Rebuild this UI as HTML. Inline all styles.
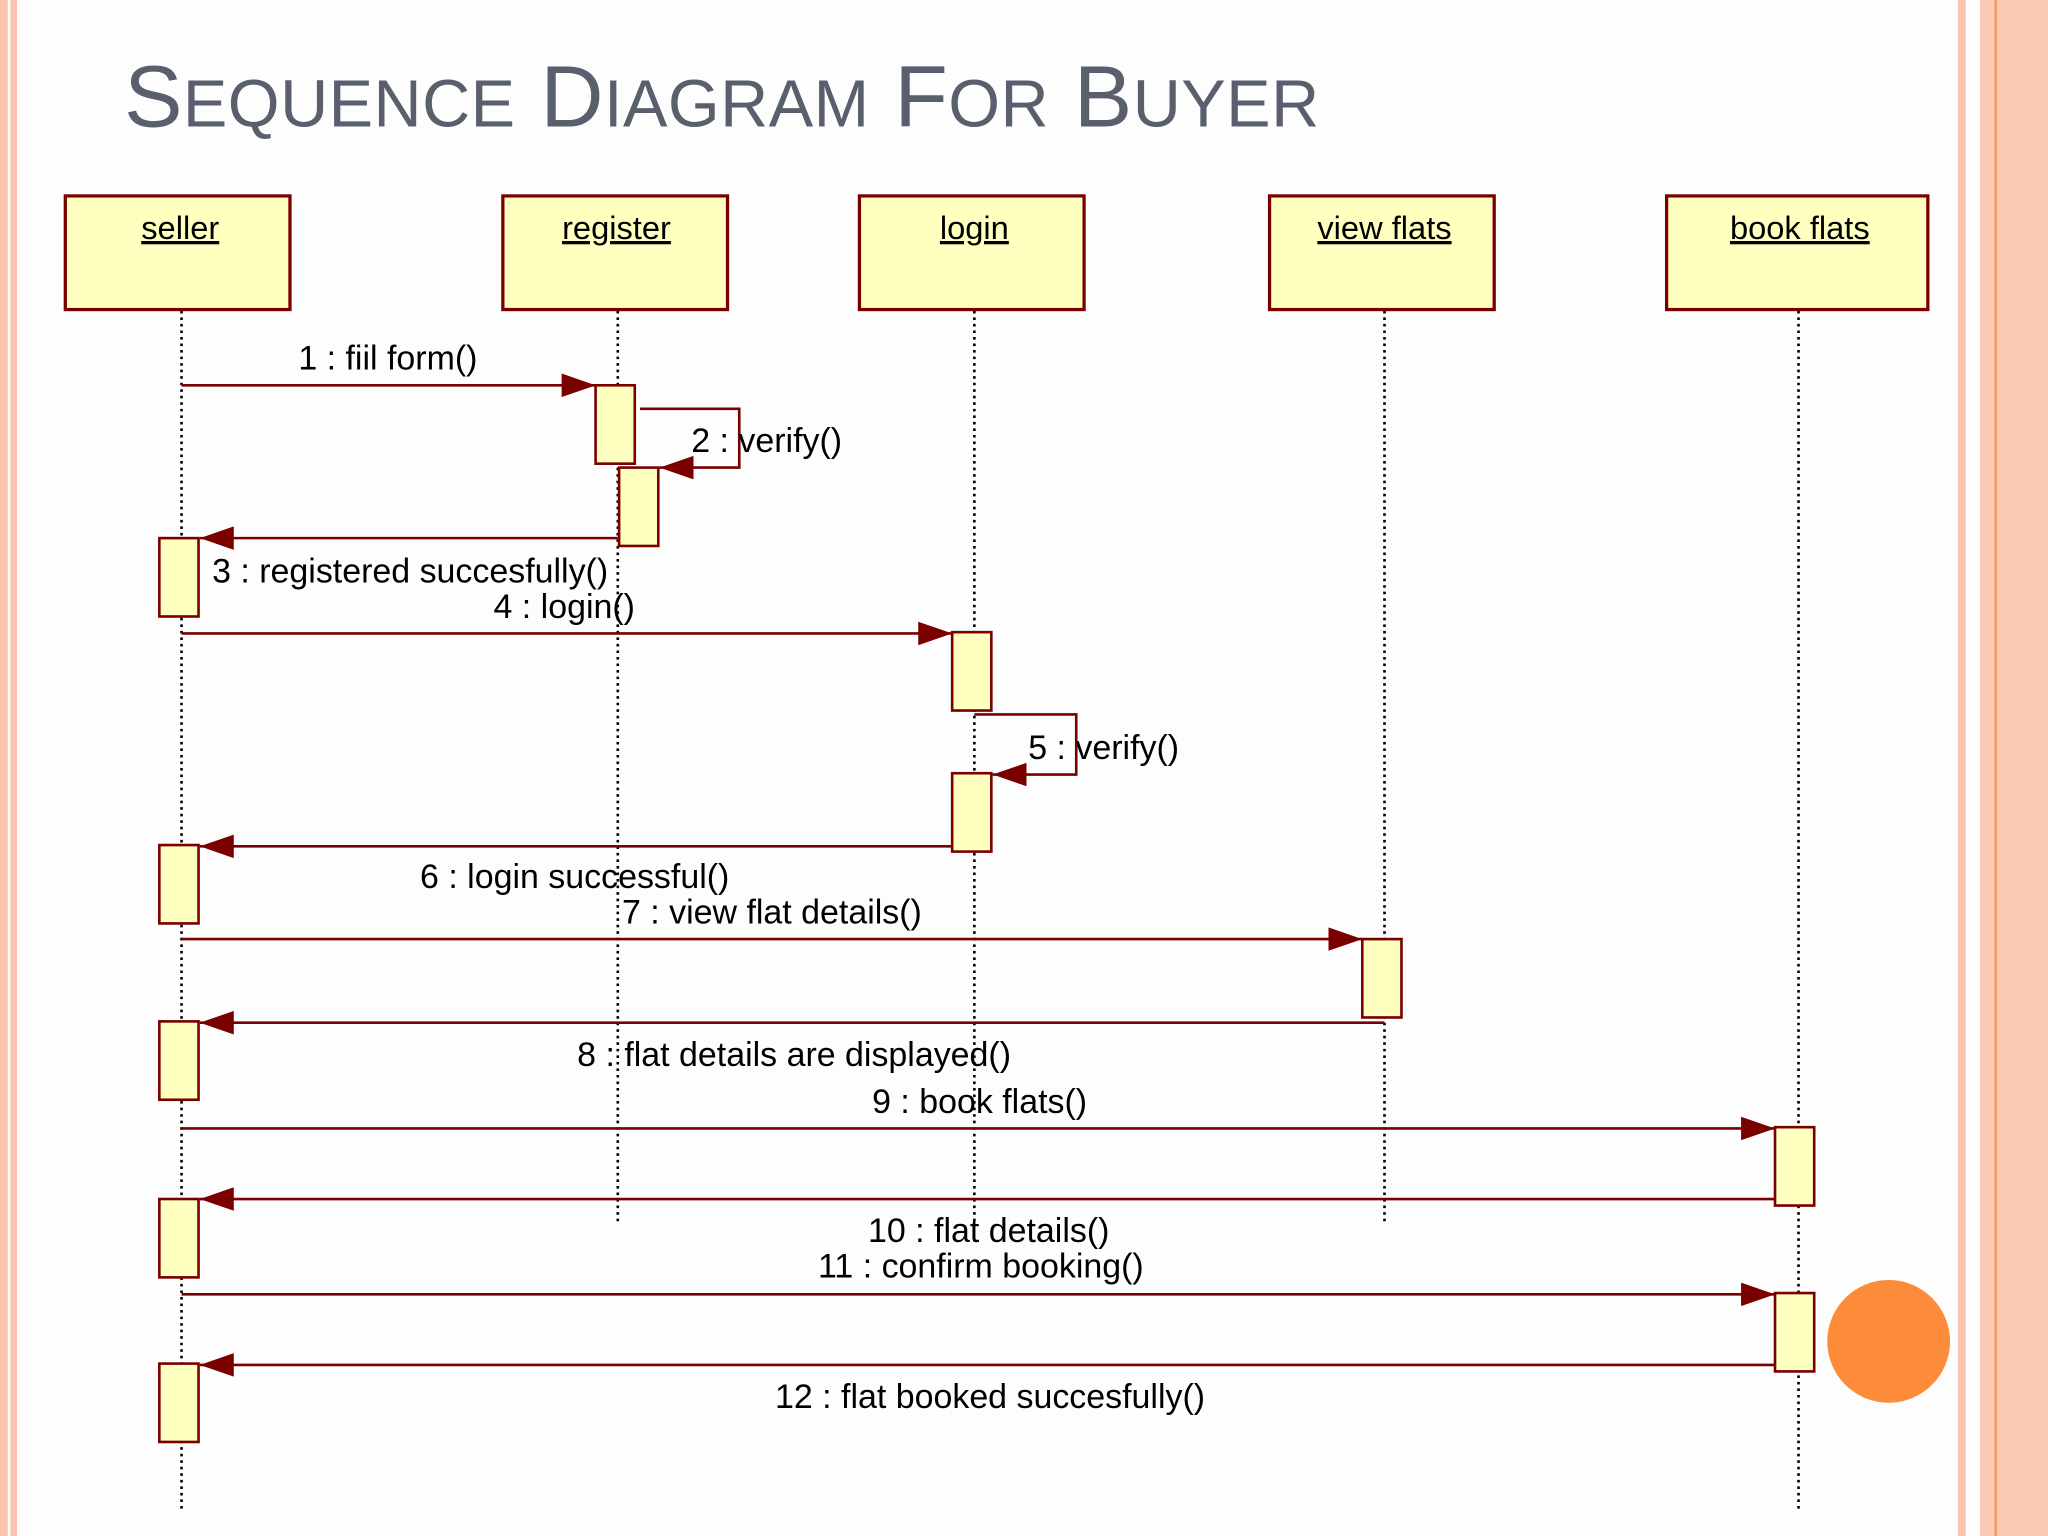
<!DOCTYPE html>
<html><head><meta charset="utf-8"><style>
html,body{margin:0;padding:0;background:#fdfdfd;}
svg{display:block;}
text{font-family:"Liberation Sans",sans-serif;}
</style></head><body>
<svg width="2048" height="1536" viewBox="0 0 1568 1176" xmlns="http://www.w3.org/2000/svg">
<defs>
<marker id="a" markerWidth="26" markerHeight="18" refX="26" refY="9" orient="auto" markerUnits="userSpaceOnUse">
<path d="M0,0 L26,9 L0,18 Z" fill="#7a0000"/></marker>
</defs>
<rect width="1568" height="1176" fill="#fdfdfd"/>
<rect x="0" y="0" width="6" height="1176" fill="#fcc4b0"/>
<rect x="8" y="0" width="5" height="1176" fill="#fcc4b0"/>
<rect x="1499" y="0" width="6" height="1176" fill="#fcc4b0"/>
<rect x="1516" y="0" width="52" height="1176" fill="#fbcab4"/>
<rect x="1527" y="0" width="2" height="1176" fill="#f49a60"/>
<text x="95" y="97" fill="#5a5f6e" font-size="67" textLength="915" lengthAdjust="spacing">S<tspan font-size="51">EQUENCE</tspan> D<tspan font-size="51">IAGRAM</tspan> F<tspan font-size="51">OR</tspan> B<tspan font-size="51">UYER</tspan></text>
<g fill="#ffffc0" stroke="#7a0000" stroke-width="2.5">
<rect x="50" y="150" width="172" height="87"/>
<rect x="385" y="150" width="172" height="87"/>
<rect x="658" y="150" width="172" height="87"/>
<rect x="972" y="150" width="172" height="87"/>
<rect x="1276" y="150" width="200" height="87"/>
</g>
<g font-size="25" fill="#000" text-anchor="middle" text-decoration="underline">
<text x="138" y="183">seller</text>
<text x="472" y="183">register</text>
<text x="746" y="183">login</text>
<text x="1060" y="183">view flats</text>
<text x="1378" y="183">book flats</text>
</g>
<g stroke="#000" stroke-width="2" stroke-dasharray="2,3">
<line x1="139" y1="238" x2="139" y2="1155"/>
<line x1="473" y1="238" x2="473" y2="935"/>
<line x1="746" y1="238" x2="746" y2="935"/>
<line x1="1060" y1="238" x2="1060" y2="935"/>
<line x1="1377" y1="238" x2="1377" y2="1155"/>
</g>
<g stroke="#7a0000" stroke-width="2" fill="none">
<line x1="139" y1="295" x2="456" y2="295" marker-end="url(#a)"/>
<polyline points="490,313 566,313 566,358 505,358" marker-end="url(#a)"/>
<line x1="473" y1="412" x2="153" y2="412" marker-end="url(#a)"/>
<line x1="139" y1="485" x2="729" y2="485" marker-end="url(#a)"/>
<polyline points="746,547 824,547 824,593 760,593" marker-end="url(#a)"/>
<line x1="729" y1="648" x2="153" y2="648" marker-end="url(#a)"/>
<line x1="139" y1="719" x2="1043" y2="719" marker-end="url(#a)"/>
<line x1="1060" y1="783" x2="153" y2="783" marker-end="url(#a)"/>
<line x1="139" y1="864" x2="1359" y2="864" marker-end="url(#a)"/>
<line x1="1359" y1="918" x2="153" y2="918" marker-end="url(#a)"/>
<line x1="139" y1="991" x2="1359" y2="991" marker-end="url(#a)"/>
<line x1="1359" y1="1045" x2="153" y2="1045" marker-end="url(#a)"/>
</g>
<g fill="#ffffc0" stroke="#7a0000" stroke-width="2">
<rect x="456" y="295" width="30" height="60"/>
<rect x="474" y="358" width="30" height="60"/>
<rect x="122" y="412" width="30" height="60"/>
<rect x="122" y="647" width="30" height="60"/>
<rect x="122" y="782" width="30" height="60"/>
<rect x="122" y="918" width="30" height="60"/>
<rect x="122" y="1044" width="30" height="60"/>
<rect x="729" y="484" width="30" height="60"/>
<rect x="729" y="592" width="30" height="60"/>
<rect x="1043" y="719" width="30" height="60"/>
<rect x="1359" y="863" width="30" height="60"/>
<rect x="1359" y="990" width="30" height="60"/>
</g>
<g font-size="26" fill="#000" text-anchor="middle">
<text x="297" y="283">1 : fiil form()</text>
<text x="587" y="346">2 : verify()</text>
<text x="314" y="446">3 : registered succesfully()</text>
<text x="432" y="473">4 : login()</text>
<text x="845" y="581">5 : verify()</text>
<text x="440" y="680">6 : login successful()</text>
<text x="591" y="707">7 : view flat details()</text>
<text x="608" y="816">8 : flat details are displayed()</text>
<text x="750" y="852">9 : book flats()</text>
<text x="757" y="951">10 : flat details()</text>
<text x="751" y="978">11 : confirm booking()</text>
<text x="758" y="1078">12 : flat booked succesfully()</text>
</g>
<circle cx="1446" cy="1027" r="47" fill="#fd8c3a"/>
</svg>
</body></html>
